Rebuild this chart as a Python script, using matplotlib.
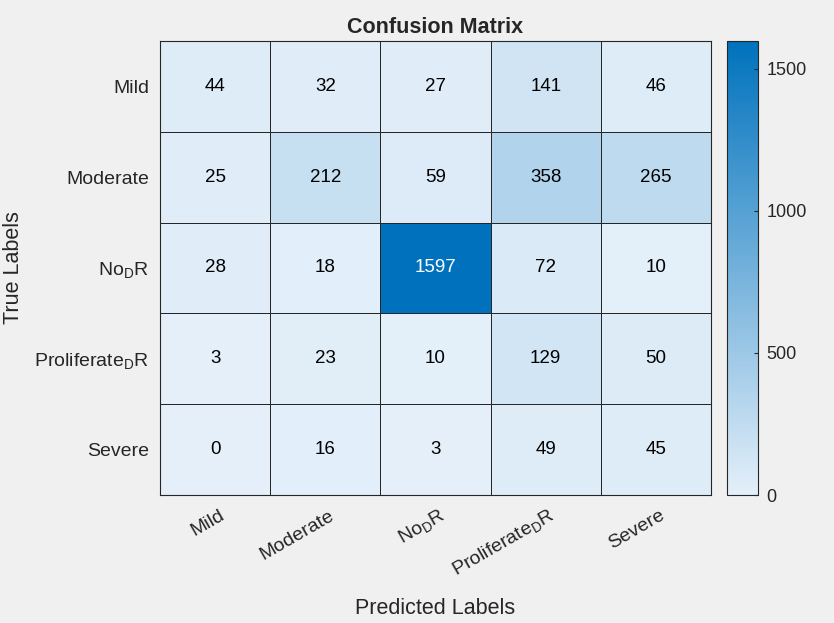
import matplotlib.pyplot as plt
import matplotlib.transforms as mtransforms
import numpy as np
from matplotlib.colors import LinearSegmentedColormap

plt.rcParams['font.family'] = ['Liberation Sans', 'DejaVu Sans']
plt.rcParams['mathtext.fontset'] = 'custom'
plt.rcParams['mathtext.rm'] = 'Liberation Sans'

class_labels = ["Mild", "Moderate", "No$_\\mathregular{D}$R",
                "Proliferate$_\\mathregular{D}$R", "Severe"]
confusion = np.array([
    [44, 32, 27, 141, 46],
    [25, 212, 59, 358, 265],
    [28, 18, 1597, 72, 10],
    [3, 23, 10, 129, 50],
    [0, 16, 3, 49, 45],
])

BG = "#f0f0f0"
TEXT = "#262626"
cmap = LinearSegmentedColormap.from_list("sky", ["#e4eff9", "#0072bd"])

fig = plt.figure(figsize=(8.34, 6.23), dpi=100, facecolor=BG)
ax = fig.add_axes([160 / 834, 1 - 495 / 623, 551 / 834, 454 / 623])
cax = fig.add_axes([727 / 834, 1 - 495 / 623, 31 / 834, 454 / 623])

vmax = confusion.max()
mesh = ax.pcolormesh(confusion, cmap=cmap, vmin=0, vmax=vmax,
                     edgecolor=TEXT, linewidth=0.6)
ax.set_xlim(0, 5)
ax.set_ylim(5, 0)

for i in range(confusion.shape[0]):
    for j in range(confusion.shape[1]):
        val = confusion[i, j]
        color = "white" if val > vmax * 0.6 else "black"
        ax.text(j + 0.5, i + 0.5, str(val), ha="center", va="center",
                fontsize=13.5, color=color)

ticks = np.arange(5) + 0.5
ax.set_xticks(ticks)
ax.set_yticks(ticks)
ax.set_xticklabels(class_labels, rotation=30, ha="right", va="center",
                   rotation_mode="anchor", fontsize=14, color=TEXT)
ax.set_yticklabels(class_labels, fontsize=14, color=TEXT)
ax.tick_params(axis="y", length=0, pad=8)
ax.tick_params(axis="x", length=0, pad=14)
# matlab puts the rotated labels a bit right of the cell centre
shift = mtransforms.ScaledTranslation(8 / 100, 0, fig.dpi_scale_trans)
for lbl in ax.get_xticklabels():
    lbl.set_transform(lbl.get_transform() + shift)
for s in ax.spines.values():
    s.set_color(TEXT)
    s.set_linewidth(0.8)

ax.set_title("Confusion Matrix", fontsize=15.5, fontweight="bold",
             color=TEXT, pad=6)
fig.text(435 / 834, 1 - 609 / 623, "Predicted Labels", ha="center",
         va="center", fontsize=15.5, color=TEXT)
fig.text(14 / 834, 1 - 268 / 623, "True Labels", ha="center",
         va="center", rotation=90, fontsize=15.5, color=TEXT)

cb = fig.colorbar(mesh, cax=cax)
cb.set_ticks([0, 500, 1000, 1500])
cb.ax.tick_params(labelsize=13, colors=TEXT, length=3, direction="in",
                  width=0.8, pad=6)
cb.outline.set_edgecolor(TEXT)
cb.outline.set_linewidth(0.8)

fig.savefig("out.png", dpi=100, facecolor=BG)
